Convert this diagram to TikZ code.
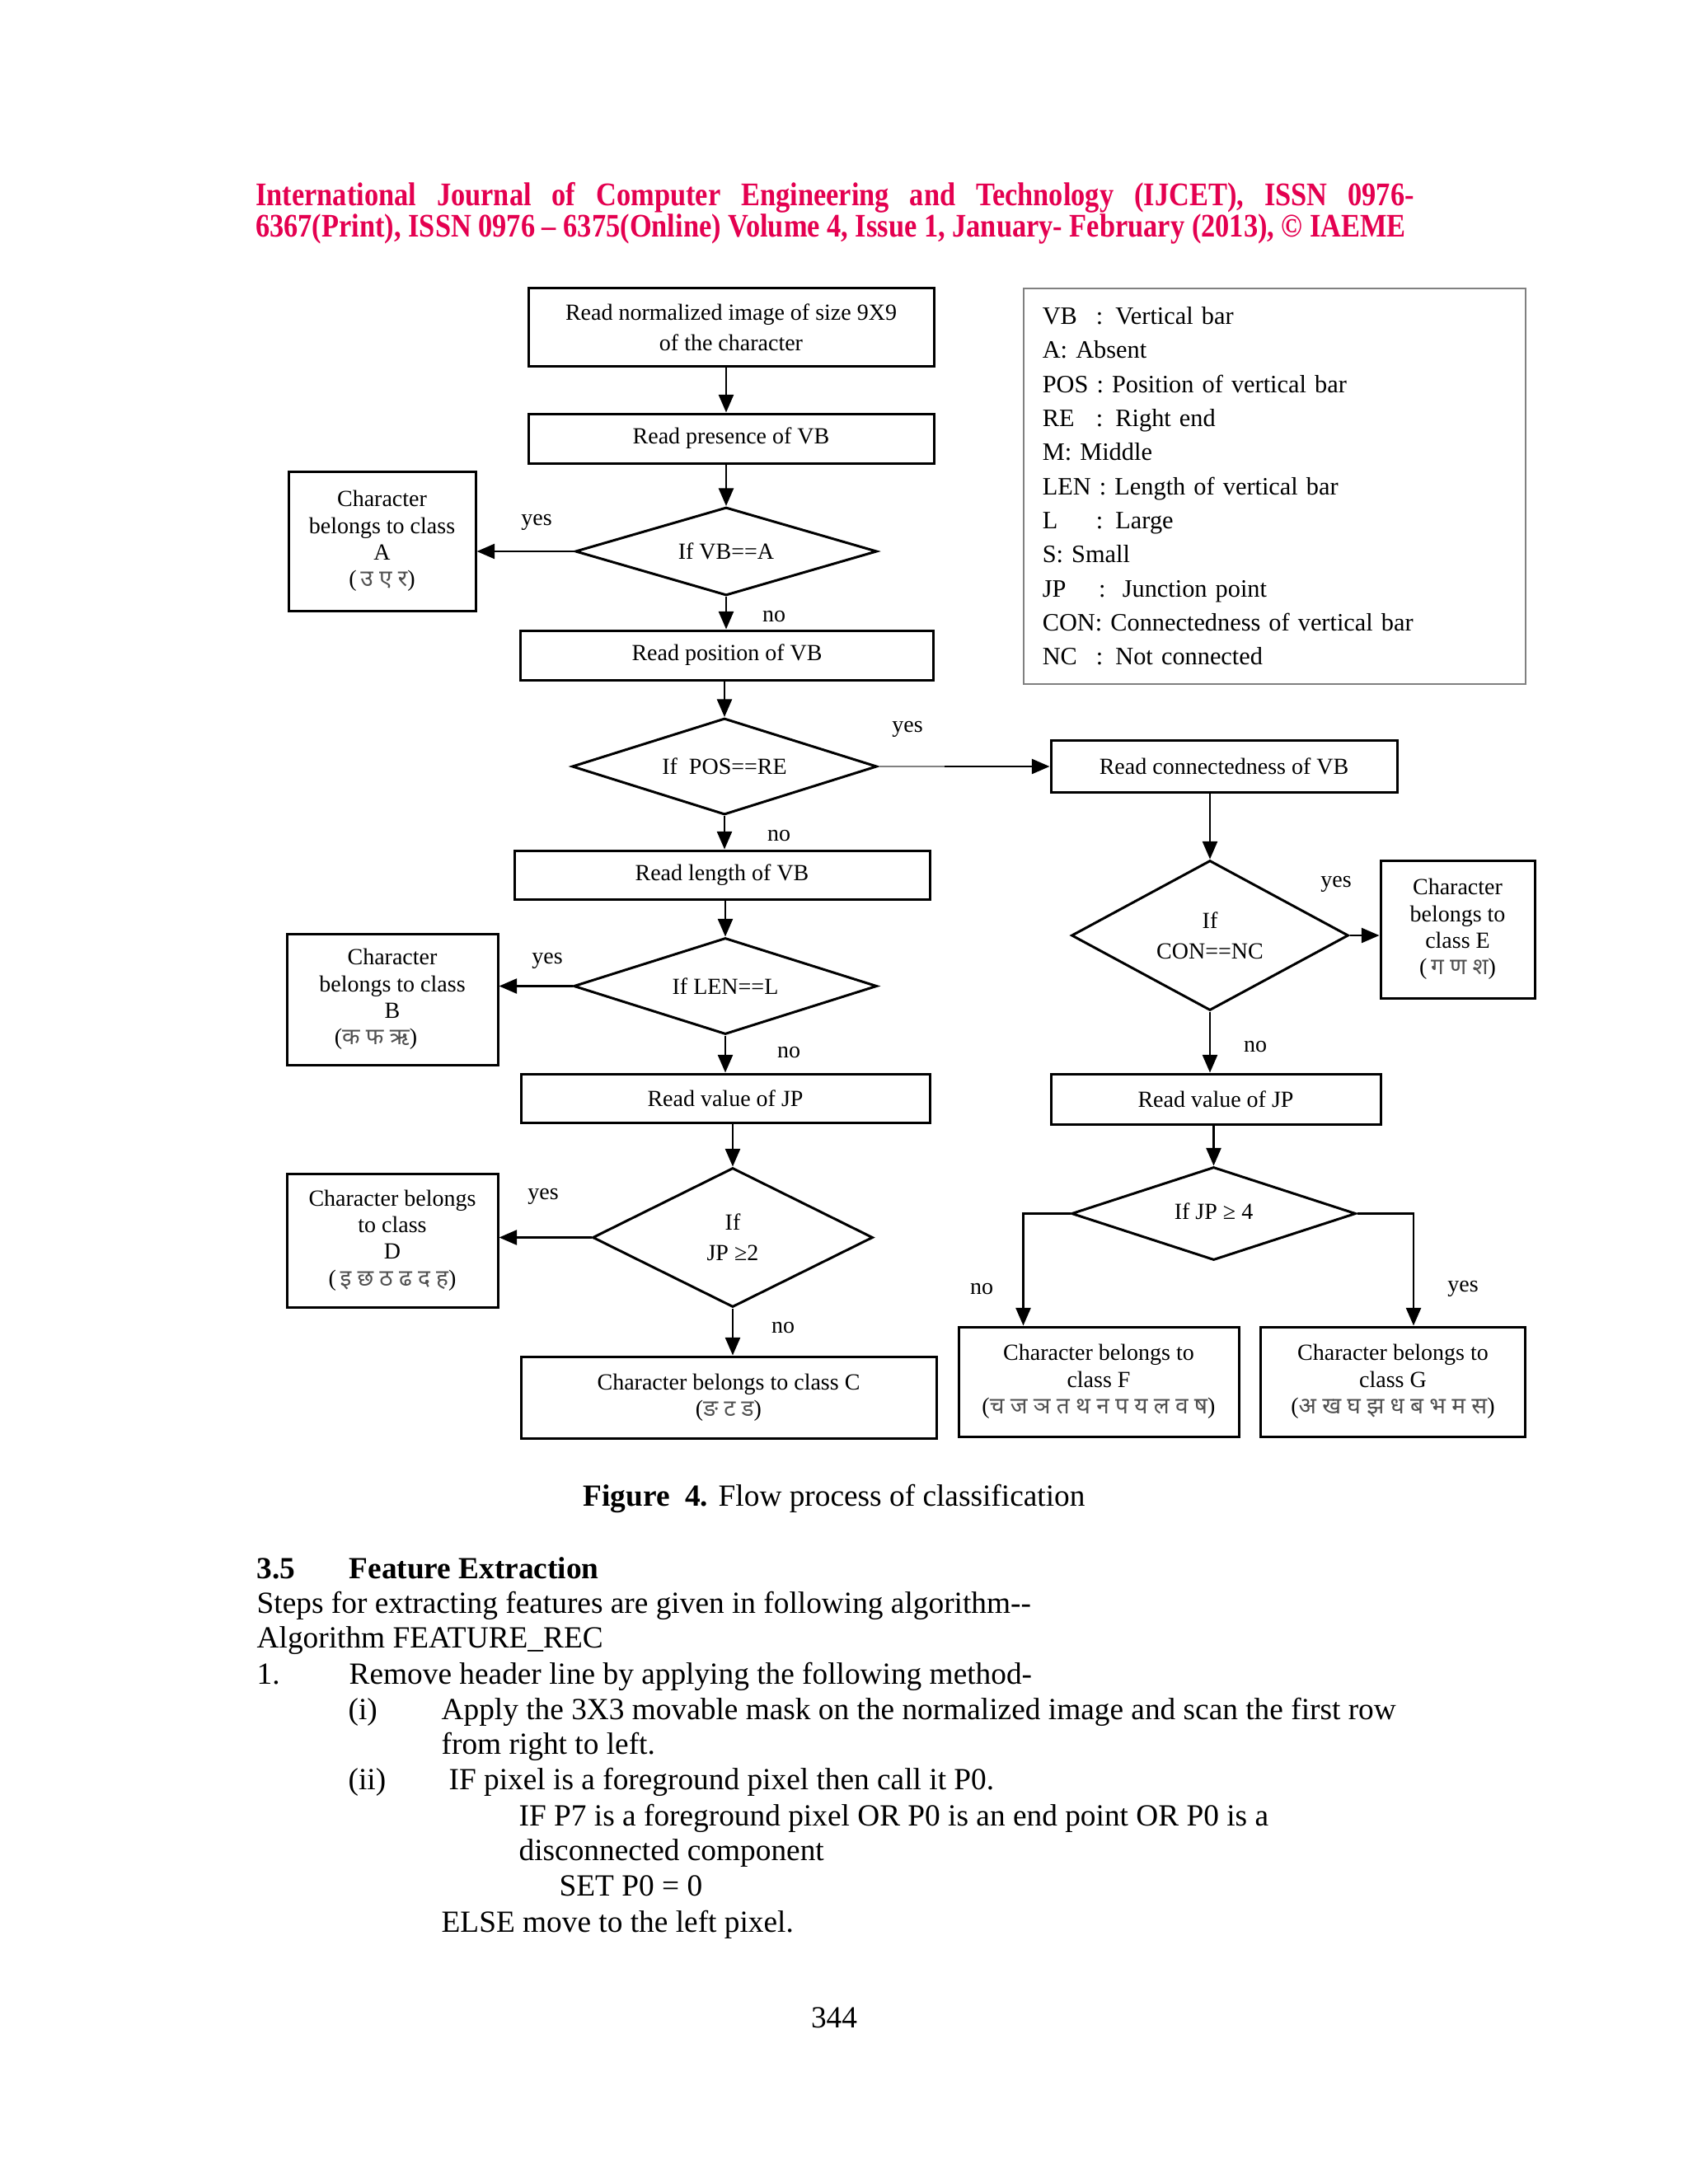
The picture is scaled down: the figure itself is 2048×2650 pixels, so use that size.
\documentclass[tikz,border=0pt]{standalone}
\usepackage{fontspec}
\setmainfont{Liberation Serif}
\newfontfamily\hdrfont[FakeStretch=0.86]{Liberation Serif}
\newfontfamily\dev[Script=Devanagari]{Noto Sans}
\usetikzlibrary{arrows.meta,shapes.geometric}
\definecolor{hdr}{RGB}{228,0,80}
\definecolor{devg}{RGB}{80,80,80}
\newcommand{\dv}[1]{{\dev\color{devg}#1}}
\begin{document}
\begin{tikzpicture}[x=0.3pt,y=-0.3pt,
  fc/.style={font=\fontsize{8.4}{9.7}\selectfont, align=center, inner sep=0pt},
  bx/.style 2 args={draw, line width=0.9pt, fc, minimum width=#1*0.3pt, minimum height=#2*0.3pt},
  dm/.style 2 args={draw, diamond, line width=0.9pt, fc, font=\fontsize{8.4}{11}\selectfont, minimum width=#1*0.3pt, minimum height=#2*0.3pt, aspect=2},
  arr/.style={line width=0.8pt, -{Triangle[length=6.5pt,width=5.4pt]}},
  lbl/.style={font=\fontsize{8.4}{9.7}\selectfont, inner sep=0pt},
  body/.style={font=\fontsize{11.2}{13}\selectfont, anchor=west, inner sep=0pt, text height=0.7em, text depth=0.2em},
  hdrline/.style={anchor=west, inner sep=0pt, text height=0.7em, text depth=0.2em, text=hdr, font=\hdrfont\bfseries\fontsize{12}{14}\selectfont},
  legendbox/.style={draw=gray, line width=0.6pt, minimum width=182.7pt, minimum height=144pt, text width=168.7pt, inner xsep=7pt, align=left, font=\fontsize{9.1}{12.4}\selectfont}
]
\useasboundingbox[fill=white] (0,0) rectangle (2048,2650);

% header
\node[hdrline] (h1) at (309.5,241) {\makebox[421.7pt][s]{International Journal of Computer Engineering and Technology (IJCET), ISSN 0976-}};
\node[hdrline] (h2) at (309.5,279) {6367(Print), ISSN 0976 – 6375(Online) Volume 4, Issue 1, January- February (2013), © IAEME};

% left column
\node[bx={492}{95}, font=\fontsize{8.4}{11}\selectfont] (b1) at (887,397) {Read normalized image of size 9X9\\of the character};
\node[bx={492}{60}] (b2) at (887,532) {Read presence of VB};
\node[dm={366}{107}] (d1) at (881,669) {If VB==A};
\node[bx={227}{169}] (cA) at (463.5,656.5) {Character\\belongs to class\\A\\(\,\dv{उ ए र})};
\node[bx={501}{60}] (b3) at (882,795) {Read position of VB};
\node[dm={370}{117}] (d2) at (879,930) {If\ \ POS==RE};
\node[bx={420}{63}] (b4) at (1485,930) {Read connectedness of VB};
\node[bx={504}{59}] (b5) at (876,1061.5) {Read length of VB};
\node[dm={368}{117}] (d3) at (880,1196.5) {If LEN==L};
\node[bx={256}{159}] (cB) at (476,1212.5) {Character\\belongs to class\\B\\(\dv{क फ ऋ})\hspace*{12pt}};
\node[bx={496}{59}] (b6) at (880,1332.5) {Read value of JP};
\node[dm={340}{169}] (d4) at (889,1501.5) {If\\JP ≥2};
\node[bx={256}{162}] (cD) at (476,1505) {Character belongs\\to class\\D\\(\,\dv{इ छ ठ ढ द ह})};
\node[bx={504}{99}] (cC) at (884,1695.5) {Character belongs to class C\\(\dv{ङ ट ड})};

% right column
\node[legendbox] (lg) at (1546,590) {\makebox[19.5pt][l]{VB}: Vertical bar\\
A: Absent\\
POS : Position of vertical bar\\
\makebox[19.5pt][l]{RE}: Right end\\
M: Middle\\
LEN : Length of vertical bar\\
\makebox[19.5pt][l]{L}: Large\\
S: Small\\
\makebox[20.5pt][l]{JP}:\ \ Junction point\\
CON: Connectedness of vertical bar\\
\makebox[19.5pt][l]{NC}: Not connected};
\node[dm={336}{182}] (d5) at (1468,1135) {If\\CON==NC};
\node[bx={187}{167}] (cE) at (1768.5,1127.5) {Character\\belongs to\\class E\\(\,\dv{ग ण श})};
\node[bx={400}{61}] (b7) at (1475,1333.5) {Read value of JP};
\node[dm={345}{113}] (d6) at (1472.5,1472.5) {\raisebox{2pt}{If JP ≥ 4}};
\node[bx={340}{133}] (cF) at (1333,1676.5) {Character belongs to\\class F\\(\dv{च ज ञ त थ न प य ल व ष})};
\node[bx={321}{133}] (cG) at (1690,1676.5) {Character belongs to\\class G\\(\dv{अ ख घ झ ध ब भ म स})};
\coordinate (m2) at (1146,930);
\coordinate (fl) at (1241.5,1472.5);
\coordinate (gr) at (1715,1472.5);

% connectors
\draw[arr] (b1.south -| d1.north) -- (b2.north -| d1.north);
\draw[arr] (b2.south -| d1.north) -- (d1.north);
\draw[arr] (d1.west) -- (d1.west -| cA.east);
\draw[arr] (d1.south) -- (b3.north -| d1.south);
\draw[arr] (b3.south -| d2.north) -- (d2.north);
\draw[gray, line width=0.5pt] (d2.east) -- (m2);
\draw[arr] (m2) -- (b4.west);
\draw[arr] (d2.south) -- (b5.north -| d2.south);
\draw[arr] (b5.south -| d3.north) -- (d3.north);
\draw[arr] (d3.west) -- (d3.west -| cB.east);
\draw[arr] (d3.south) -- (b6.north -| d3.south);
\draw[arr] (b6.south -| d4.north) -- (d4.north);
\draw[arr] (d4.west) -- (d4.west -| cD.east);
\draw[arr] (d4.south) -- (cC.north -| d4.south);
\draw[arr] (b4.south -| d5.north) -- (d5.north);
\draw[arr] (d5.east) -- (d5.east -| cE.west);
\draw[arr] (d5.south) -- (b7.north -| d5.south);
\draw[arr] (b7.south -| d6.north) -- (d6.north);
\draw[arr] (d6.west) -- (fl) -- (fl |- cF.north);
\draw[arr] (d6.east) -- (gr) -- (gr |- cG.north);

% labels
\node[lbl] (y1) at (651,634) {yes};
\node[lbl] (n1) at (939,748) {no};
\node[lbl] (y2) at (1101,885) {yes};
\node[lbl] (n2) at (945,1014) {no};
\node[lbl] (y3) at (664,1166) {yes};
\node[lbl] (n3) at (957,1277) {no};
\node[lbl] (y4) at (659,1452) {yes};
\node[lbl] (n4) at (950,1611) {no};
\node[lbl] (y5) at (1621,1073) {yes};
\node[lbl] (n5) at (1523,1270) {no};
\node[lbl] (n6) at (1191,1564) {no};
\node[lbl] (y6) at (1775,1564) {yes};

% caption and body
\node[font=\fontsize{11.2}{13}\selectfont, inner sep=0pt, text height=0.7em, text depth=0.2em] (cap) at (1012,1819) {\textbf{Figure\ \ 4.} Flow process of classification};
\node[body, font=\bfseries\fontsize{11.2}{13}\selectfont] (s1) at (311,1907) {3.5};
\node[body, font=\bfseries\fontsize{11.2}{13}\selectfont] (s2) at (423,1907) {Feature Extraction};
\node[body] (t1) at (311,1949) {Steps for extracting features are given in following algorithm-{}-};
\node[body] (t2) at (311,1991) {Algorithm FEATURE\_REC};
\node[body] (t3a) at (311,2035) {1.};
\node[body] (t3b) at (423,2035) {Remove header line by applying the following method-};
\node[body] (t4a) at (422,2078) {(i)};
\node[body] (t4b) at (535,2078) {Apply the 3X3 movable mask on the normalized image and scan the first row};
\node[body] (t5) at (535,2120) {from right to left.};
\node[body] (t6a) at (422,2163) {(ii)};
\node[body] (t6b) at (544,2163) {IF pixel is a foreground pixel then call it P0.};
\node[body] (t7) at (629,2207) {IF P7 is a foreground pixel OR P0 is an end point OR P0 is a};
\node[body] (t8) at (629,2249) {disconnected component};
\node[body] (t9) at (678,2292) {SET P0 = 0};
\node[body] (t10) at (535,2336) {ELSE move to the left pixel.};
\node[font=\fontsize{11.2}{13}\selectfont, inner sep=0pt] (pg) at (1012,2448) {344};
\end{tikzpicture}
\end{document}
